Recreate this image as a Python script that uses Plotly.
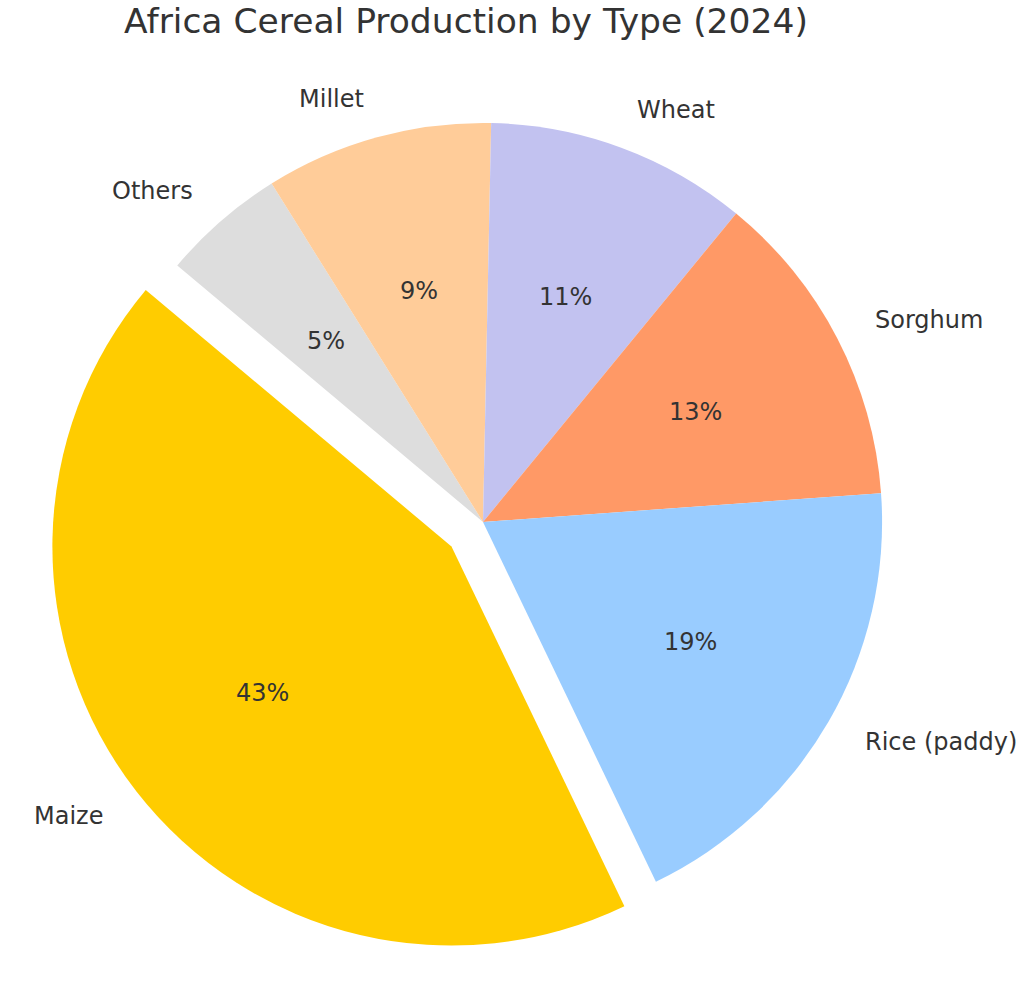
import math
import plotly.graph_objects as go

# ---- data (counter-clockwise order, as in the reference) ----
categories = ["Maize", "Rice (paddy)", "Sorghum", "Wheat", "Millet", "Others"]
shares = [43.2, 19.0, 12.9, 10.6, 9.2, 5.0]
colors = ["#FFCC00", "#99CCFF", "#FF9966", "#C2C2F0", "#FFCC99", "#DDDDDD"]
explode = [0.1, 0, 0, 0, 0, 0]
title_text = "Africa Cereal Production by Type (2024)"

START_ANGLE = 140.0  # degrees, counter-clockwise from 3 o'clock
PCT_DIST = 0.6
LABEL_DIST = 1.1
FONT = "DejaVu Sans"
TXT = "#333333"

W, H = 1027, 993
# pie box (pixels) -> domain fractions
cx, cy, box = 483, 522, 878
dom_x = [(cx - box / 2) / W, (cx + box / 2) / W]
dom_y = [(H - (cy + box / 2)) / H, (H - (cy - box / 2)) / H]
max_pull = max(explode)
lim = 1 + max_pull

fig = go.Figure()

# Plotly draws clockwise reliably -> feed reversed order, starting at START_ANGLE
fig.add_trace(go.Pie(
    labels=categories[::-1],
    values=shares[::-1],
    marker=dict(colors=colors[::-1], line=dict(width=0)),
    pull=explode[::-1],
    sort=False,
    direction="clockwise",
    rotation=-(START_ANGLE - 90),
    textinfo="none",
    hoverinfo="label+percent",
    showlegend=False,
    domain=dict(x=dom_x, y=dom_y),
))

# invisible scatter so the helper cartesian axes exist
fig.add_trace(go.Scatter(x=[], y=[], hoverinfo="skip", showlegend=False))

total = sum(shares)
annotations = []
ang = START_ANGLE
for cat, v, ex in zip(categories, shares, explode):
    span = 360.0 * v / total
    mid = math.radians(ang + span / 2)
    c, s = math.cos(mid), math.sin(mid)
    pr = PCT_DIST + ex
    lr = LABEL_DIST + ex
    annotations.append(dict(
        x=pr * c, y=pr * s, xref="x", yref="y",
        text=f"{100 * v / total:.0f}%", showarrow=False,
        xanchor="center", yanchor="middle",
        font=dict(family=FONT, size=24, color=TXT),
    ))
    annotations.append(dict(
        x=lr * c, y=lr * s, xref="x", yref="y",
        text=cat, showarrow=False,
        xanchor="left" if c > 0 else "right", yanchor="middle",
        font=dict(family=FONT, size=24, color=TXT),
    ))
    ang += span

fig.update_layout(
    width=W, height=H,
    margin=dict(l=0, r=0, t=0, b=0),
    paper_bgcolor="white", plot_bgcolor="rgba(0,0,0,0)",
    title=dict(text=title_text, x=466 / W, xanchor="center",
               y=1 - 21 / H, yref="container", yanchor="middle",
               font=dict(family=FONT, size=34.5, color=TXT)),
    xaxis=dict(domain=dom_x, range=[-lim, lim], visible=False, fixedrange=True),
    yaxis=dict(domain=dom_y, range=[-lim, lim], visible=False, fixedrange=True),
    annotations=annotations,
)

fig.write_html("out.html")
